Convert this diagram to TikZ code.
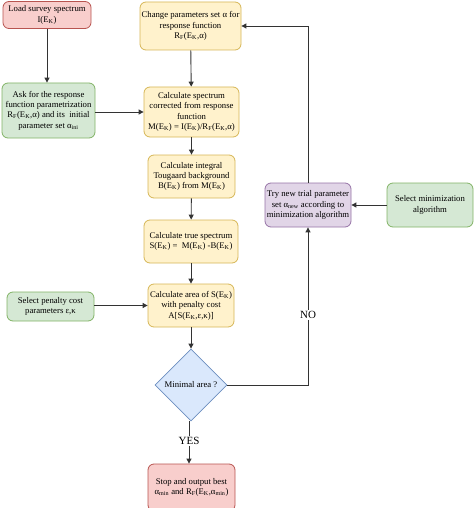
\documentclass[tikz,border=0pt]{standalone}
\usepackage{fontspec}
\setmainfont{Liberation Serif}
\usetikzlibrary{shapes.geometric,arrows.meta}
\definecolor{redfill}{HTML}{F8CECC}\definecolor{reddraw}{HTML}{B85450}
\definecolor{grnfill}{HTML}{D5E8D4}\definecolor{grndraw}{HTML}{82B366}
\definecolor{ylwfill}{HTML}{FFF2CC}\definecolor{ylwdraw}{HTML}{D6B656}
\definecolor{prpfill}{HTML}{E1D5E7}\definecolor{prpdraw}{HTML}{9673A6}
\definecolor{blufill}{HTML}{DAE8FC}\definecolor{bludraw}{HTML}{6C8EBF}
\newcommand\Ek{E\textsubscript{K}}
\newcommand\Rf{R\textsubscript{F}}
\tikzset{
  box/.style={rectangle, rounded corners=6pt, line width=0.8pt, align=center,
    inner sep=1pt, font=\fontsize{8.7}{10.4}\selectfont},
  redbox/.style={box, fill=redfill, draw=reddraw},
  grnbox/.style={box, fill=grnfill, draw=grndraw},
  ylwbox/.style={box, fill=ylwfill, draw=ylwdraw},
  prpbox/.style={box, fill=prpfill, draw=prpdraw},
  decision/.style={diamond, aspect=1, fill=blufill, draw=bludraw, line width=0.8pt,
    inner sep=0pt, minimum width=72pt, minimum height=72pt, font=\fontsize{8.7}{10.4}\selectfont},
  conn/.style={draw=black!80, line width=0.9pt, -{Triangle[length=5pt,width=5pt]}},
  lbl/.style={fill=white, inner sep=1pt, font=\fontsize{11}{13}\selectfont}
}
\begin{document}
\begin{tikzpicture}[x=1pt,y=-1pt]
\useasboundingbox (0,0) rectangle (474,508);
\begin{scope}
\clip (0,0) rectangle (474,508);
\node[redbox, minimum width=88pt, minimum height=27pt] (load) at (47,15) {Load survey spectrum\\I(\Ek)};
\node[ylwbox, minimum width=101pt, minimum height=48pt] (change) at (190.5,26) {Change parameters set α for\\response function\\\Rf(\Ek,α)};
\node[grnbox, minimum width=93pt, minimum height=55pt] (ask) at (48.5,110.5) {Ask for the response\\function parametrization\\\Rf(\Ek,α) and its\ \ initial\\parameter set α\textsubscript{ini}};
\node[ylwbox, minimum width=95pt, minimum height=50pt] (calc) at (191.5,112) {Calculate spectrum\\corrected from response\\function\\M(\Ek) = I(\Ek)/\Rf(\Ek,α)};
\node[ylwbox, minimum width=87pt, minimum height=43pt] (integ) at (191.5,176.5) {Calculate integral\\Tougaard background\\B(\Ek) from M(\Ek)};
\node[ylwbox, minimum width=94pt, minimum height=43pt] (true) at (191,241.5) {Calculate true spectrum\\S(\Ek) =\ \ M(\Ek) -B(\Ek)};
\node[ylwbox, minimum width=86pt, minimum height=43pt] (area) at (191,305.5) {Calculate area of S(\Ek)\\with penalty cost\\A[S(\Ek,ε,κ)]};
\node[grnbox, minimum width=87pt, minimum height=29pt] (pen) at (50.5,306.5) {Select penalty cost\\parameters ε,κ};
\node[prpbox, minimum width=86pt, minimum height=44pt] (try) at (308,205) {Try new trial parameter\\set α\textsubscript{new} according to\\minimization algorithm};
\node[grnbox, minimum width=86pt, minimum height=44pt] (sel) at (430,205) {Select minimization\\algorithm};
\node[decision] (dec) at (191,385) {Minimal area ?};
\node[redbox, minimum width=87pt, minimum height=47pt] (stop) at (191.5,487.5) {Stop and output best\\α\textsubscript{min} and \Rf(\Ek,α\textsubscript{min})};

\draw[conn] (load.south) -- (load.south |- ask.north);
\draw[conn] (change) -- (calc);
\draw[conn] (ask.east |- calc.west) -- (calc.west);
\draw[conn] (calc) -- (integ);
\draw[conn] (integ) -- (true);
\draw[conn] (true) -- (area);
\draw[conn] (area) -- (dec);
\draw[conn] (pen.east |- area.west) -- (area.west);
\draw[conn] (sel.west) -- (try.east);
\draw[conn] (dec.east) -| (try.south);
\draw[conn] (try.north) |- (change.east);
\draw[conn] ([xshift=-2pt]dec.south) -- ([xshift=-2pt]dec.south |- stop.north);
\node[lbl] (no) at (308,315) {NO};
\node[lbl] (yes) at (189,441) {YES};
\end{scope}
\end{tikzpicture}
\end{document}
